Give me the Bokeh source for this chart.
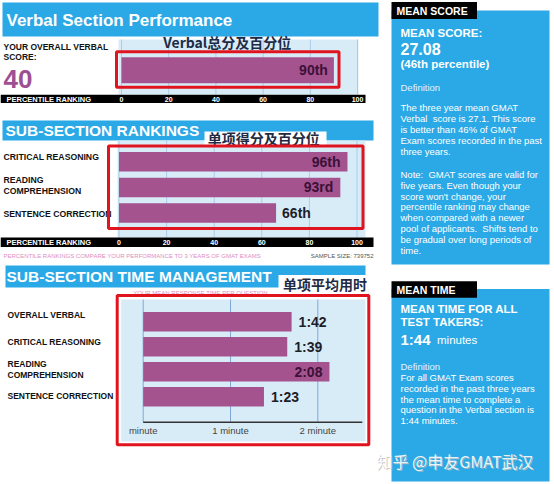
from bokeh.plotting import figure
from bokeh.models import Range1d
from bokeh.core.properties import value
from bokeh.embed import file_html
from bokeh.resources import INLINE

# ---------------- data ----------------
verbal_score = 40
verbal_percentile = [90]
verbal_pct_labels = ["90th"]
pct_ticks = [0, 20, 40, 60, 80, 100]

sub_sections = ["CRITICAL REASONING", "READING\nCOMPREHENSION", "SENTENCE CORRECTION"]
sub_percentiles = [96, 93, 66]
sub_pct_labels = ["96th", "93rd", "66th"]
sample_size = 739752

time_sections = ["OVERALL VERBAL", "CRITICAL REASONING", "READING\nCOMPREHENSION", "SENTENCE CORRECTION"]
time_values = ["1:42", "1:39", "2:08", "1:23"]
time_ticks = [0, 1, 2]
time_tick_labels = ["minute", "1 minute", "2 minute"]

mean_score = "27.08"
mean_score_pct = "46th"
mean_time_all = "1:44"

# ---------------- styling ----------------
W, H = 554, 484
SANS = "Liberation Sans"
CJK = "Noto Sans CJK SC"
BLUE = "#2aa9e6"
LIGHT = "#d8ecf8"
GRID = "#a9cdea"
BAR = "#a5538f"
RED = "#e0141e"
PINK = "#e08cc0"
IN_LBL = "#3b1138"
OUT_LBL = "#1e1e28"
NOTE = "#1f2b45"
NB = "\u00a0"

p = figure(width=W, height=H, x_range=Range1d(0, W), y_range=Range1d(H, 0),
           x_axis_location=None, y_axis_location=None, min_border=0,
           toolbar_location=None, output_backend="svg", outline_line_color=None,
           background_fill_color="white", border_fill_color="white")
p.grid.visible = False


def xr(p0, v0, p1, v1):
    k = (v1 - v0) / (p1 - p0)
    return Range1d(start=v0 - p0 * k, end=v0 + (W - p0) * k)


def yr(p0, v0, p1, v1):
    k = (v1 - v0) / (p1 - p0)
    return Range1d(start=v0 + (H - p0) * k, end=v0 - p0 * k)


p.extra_x_ranges = {
    "p1x": xr(121, 0, 357, 100),
    "p2x": xr(118.5, 0, 356.5, 100),
    "p3x": xr(142.7, 0, 230, 1),
}
p.extra_y_ranges = {
    "p1y": yr(69.7, 0, 95.7, 1),
    "p2y": yr(161.3, 0, 186.9, 1),
    "p2l": yr(156.5, 0, 184.75, 1),
    "p3y": yr(321.3, 0, 346.3, 1),
    "p3l": yr(314.3, 0, 341.4, 1),
}


def txt(xs, ys, texts, size, color, style="normal", align="left", baseline="middle",
        font=SANS, xn="default", yn="default", x_offset=0, y_offset=0, alpha=1.0, lh=1.1):
    p.text(x=list(xs), y=list(ys), text=list(texts), text_font=value(font),
           text_font_size=f"{size}px", text_font_style=style, text_color=color,
           text_align=align, text_baseline=baseline, x_range_name=xn, y_range_name=yn,
           x_offset=x_offset, y_offset=y_offset, text_alpha=alpha, text_line_height=lh)


def box(l, r, t, b, fill=None, line=None, lw=1):
    p.quad(left=[l], right=[r], top=[t], bottom=[b], fill_color=fill,
           line_color=line, line_width=lw)


# ================= Panel 1: Verbal Section Performance =================
box(2, 378, 2, 36, fill=BLUE)
txt([6], [19.5], ["Verbal Section Performance"], 17, "white", "bold")
txt([3, 3], [46.5, 56], ["YOUR OVERALL VERBAL", "SCORE:"], 8.5, "#111111", "bold")
txt([3], [78], [str(verbal_score)], 26, "#9e4f93", "bold")

box(118, 358, 39, 94, fill=LIGHT)
p.segment(x0=pct_ticks, x1=pct_ticks, y0=[39] * 6, y1=[94] * 6, line_color=GRID,
          line_width=1, x_range_name="p1x")
txt([226.7], [41.5], ["Verbal总分及百分位"], 14, NOTE, "bold", align="center", font=CJK)
p.hbar(y=[0], left=0, right=verbal_percentile, height=1.0, fill_color=BAR,
       line_color=None, x_range_name="p1x", y_range_name="p1y")
txt(verbal_percentile, [0], verbal_pct_labels, 14, IN_LBL, "bold", align="right",
    xn="p1x", yn="p1y", x_offset=-6)
box(116, 338.5, 51.3, 86.7, fill=None, line=RED, lw=3)

box(0, 365, 94.3, 102.5, fill="black")
txt([6], [98.5], ["PERCENTILE RANKING"], 7.5, "white", "bold")
txt(pct_ticks, [98.5] * len(pct_ticks), [str(t) for t in pct_ticks], 7, "white", "bold",
    align="center", xn="p1x")

# ================= Panel 2: Sub-section rankings =================
box(2, 373, 120, 140, fill=BLUE)
txt([5], [129.5], ["SUB-SECTION RANKINGS"], 15.5, "white", "bold")
idx2 = list(range(len(sub_sections)))
txt([3] * len(sub_sections), idx2, sub_sections, 8.7, "#111111", "bold", yn="p2l")

box(117, 365, 140, 237, fill=LIGHT)
p.segment(x0=pct_ticks, x1=pct_ticks, y0=[140] * 6, y1=[237] * 6, line_color=GRID,
          line_width=1, x_range_name="p2x")
box(204, 326, 131, 146.5, fill="white")
txt([263.3], [137.5], ["单项得分及百分位"], 14, NOTE, "bold", align="center", font=CJK)
p.hbar(y=idx2, left=0, right=sub_percentiles, height=0.76, fill_color=BAR,
       line_color=None, x_range_name="p2x", y_range_name="p2y")
ins = [i for i, v in enumerate(sub_percentiles) if v >= 85]
outs = [i for i, v in enumerate(sub_percentiles) if v < 85]
txt([sub_percentiles[i] for i in ins], ins, [sub_pct_labels[i] for i in ins], 14, IN_LBL,
    "bold", align="right", xn="p2x", yn="p2y", x_offset=-7)
txt([sub_percentiles[i] for i in outs], outs, [sub_pct_labels[i] for i in outs], 14,
    OUT_LBL, "bold", align="left", xn="p2x", yn="p2y", x_offset=6)
box(108, 362.5, 145.5, 228, fill=None, line=RED, lw=3)

box(0, 373, 237, 246.5, fill="black")
txt([6], [241.8], ["PERCENTILE RANKING"], 7.5, "white", "bold")
txt(pct_ticks, [241.8] * len(pct_ticks), [str(t) for t in pct_ticks], 7, "white", "bold",
    align="center", xn="p2x")
txt([3], [255], ["PERCENTILE RANKINGS COMPARE YOUR PERFORMANCE TO 3 YEARS OF GMAT EXAMS"],
    6, PINK)
txt([373], [255], [f"SAMPLE SIZE: {sample_size}"], 6, "#555555", align="right")

# ================= Panel 3: Time management =================
box(5, 365, 265, 287, fill=BLUE)
txt([6], [275.5], ["SUB-SECTION TIME MANAGEMENT"], 15.5, "white", "bold")
box(278, 372, 274.5, 292, fill="white")
txt([324.5], [283], ["单项平均用时"], 14, NOTE, "bold", align="center", font=CJK)
txt([200], [292.3], ["YOUR MEAN RESPONSE TIME PER QUESTION"], 6, PINK, align="center")

idx3 = list(range(len(time_sections)))
txt([7] * len(time_sections), idx3, time_sections, 8.5, "#111111", "bold", yn="p3l")

minutes = [int(t.split(":")[0]) + int(t.split(":")[1]) / 60 for t in time_values]
box(120.7, 365, 299, 441, fill=LIGHT)
p.segment(x0=time_ticks, x1=time_ticks, y0=[299] * 3, y1=[421.7] * 3,
          line_color="#7fa8d6", line_width=1, x_range_name="p3x")
p.hbar(y=idx3, left=0, right=minutes, height=0.78, fill_color=BAR, line_color=None,
       x_range_name="p3x", y_range_name="p3y")
ins = [i for i, v in enumerate(minutes) if v >= 2]
outs = [i for i, v in enumerate(minutes) if v < 2]
txt([minutes[i] for i in ins], ins, [time_values[i] for i in ins], 14, IN_LBL, "bold",
    align="right", xn="p3x", yn="p3y", x_offset=-7)
txt([minutes[i] for i in outs], outs, [time_values[i] for i in outs], 14, OUT_LBL, "bold",
    align="left", xn="p3x", yn="p3y", x_offset=7)
p.segment(x0=[time_ticks[0]], x1=[2.51], y0=[421.7], y1=[421.7], line_color="#333333",
          line_width=1.5, x_range_name="p3x")
txt(time_ticks, [429.5] * 3, time_tick_labels, 9.5, "#444444", align="center", xn="p3x")
box(116.7, 368.3, 295, 444.3, fill=None, line=RED, lw=3)

# ================= Right: Mean score box =================
box(391, 549, 10, 264, fill=BLUE)
box(391, 476.5, 1.5, 18.5, fill="black")
txt([396], [10.2], ["MEAN SCORE"], 10.5, "white", "bold")
txt([400], [32.7], ["MEAN SCORE:"], 11.5, "white", "bold")
txt([400], [48.5], [mean_score], 16, "white", "bold")
txt([400], [63.3], [f"({mean_score_pct} percentile)"], 11.5, "white", "bold")
txt([400], [87.3], ["Definition"], 9.5, "#e2f2fc")
para1 = ["The three year mean GMAT", f"Verbal {NB}score is 27.1. This score",
         "is better than 46% of GMAT", "Exam scores recorded in the past", "three years."]
txt([400] * len(para1), [107.3 + 10.85 * i for i in range(len(para1))], para1, 9.5, "white")
para2 = [f"Note: {NB}GMAT scores are valid for", "five years. Even though your",
         "score won't change, your", "percentile ranking may change",
         "when compared with a newer", f"pool of applicants. {NB}Shifts tend to",
         "be gradual over long periods of", "time."]
txt([400] * len(para2), [174 + 10.8 * i for i in range(len(para2))], para2, 9.5, "white")

# ================= Right: Mean time box =================
box(391, 549, 288.5, 481, fill=BLUE)
box(391, 476.5, 280.7, 297.3, fill="black")
txt([396], [289.2], ["MEAN TIME"], 10.5, "white", "bold")
txt([400, 400], [308.3, 321.5], ["MEAN TIME FOR ALL", "TEST TAKERS:"], 11.5, "white", "bold")
txt([400], [339.3], [mean_time_all], 15, "white", "bold")
txt([436.5], [339.8], ["minutes"], 11.5, "white")
txt([400], [366], ["Definition"], 9.5, "#e2f2fc")
para3 = ["For all GMAT Exam scores", "recorded in the past three years",
         "the mean time to complete a", "question in the Verbal section is",
         f"{mean_time_all} minutes."]
txt([400] * len(para3), [377 + 10.75 * i for i in range(len(para3))], para3, 9.5, "white")

# watermark
txt([377], [461], ["知乎 @申友GMAT武汉"], 16, "#b8b8b8", font=CJK, alpha=0.8)
txt([376], [460], ["知乎 @申友GMAT武汉"], 16, "white", font=CJK, alpha=0.9)

open("out.html", "w").write(file_html(p, INLINE))
